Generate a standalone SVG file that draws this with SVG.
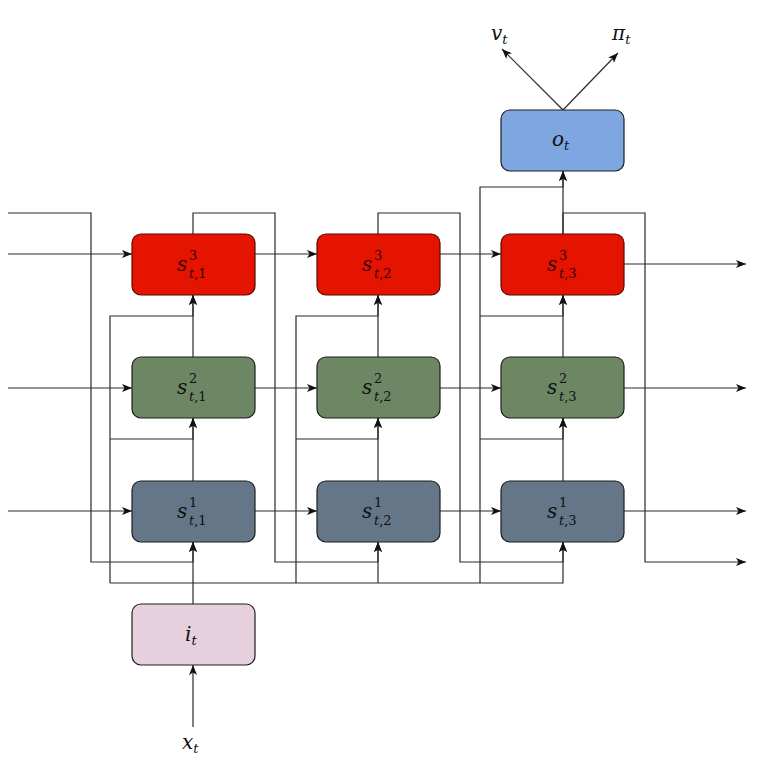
<svg xmlns="http://www.w3.org/2000/svg" width="758" height="776" viewBox="0 0 758 776">
<style>
.box{stroke:#1e1e1e;stroke-width:1.2}
.red{fill:#e51400;stroke:#5a0a00}
.green{fill:#6d8764}
.gray{fill:#647687}
.pink{fill:#e6d0de}
.blue{fill:#7ea6e0}
.ln{fill:none;stroke:#2a2a2a;stroke-width:1.2}
text{font-family:'DejaVu Serif','Liberation Serif',serif;font-style:italic;font-size:20px;fill:#111}
.rt{fill:#3a0000}
.s{font-size:13px}
.u{font-style:normal}
</style>
<defs>
<marker id="ar" markerUnits="userSpaceOnUse" markerWidth="10" markerHeight="8" viewBox="0 0 10 8" refX="10" refY="4" orient="auto">
<path d="M0,0 L10,4 L0,8 L2.5,4 z" fill="#111"/>
</marker>
</defs>
<g id="connectors">
<path class="ln" marker-end="url(#ar)" d="M8,254 H132"/>
<path class="ln" marker-end="url(#ar)" d="M8,388 H132"/>
<path class="ln" marker-end="url(#ar)" d="M8,511 H132"/>
<path class="ln" marker-end="url(#ar)" d="M8,213 H91 V562 H193 V542"/>
<path class="ln" marker-end="url(#ar)" d="M193,234 V213 H275 V562 H378 V542"/>
<path class="ln" marker-end="url(#ar)" d="M378,234 V213 H460 V562 H563 V542"/>
<path class="ln" marker-end="url(#ar)" d="M563,234 V213 H645 V562 H746"/>
<path class="ln" marker-end="url(#ar)" d="M563,234 V171"/>
<path class="ln" marker-end="url(#ar)" d="M193,604 V542"/>
<path class="ln" marker-end="url(#ar)" d="M110,583 H563 V542"/>
<path class="ln" marker-end="url(#ar)" d="M378,583 V542"/>
<path class="ln" marker-end="url(#ar)" d="M110,583 V316 H193 V295"/>
<path class="ln" marker-end="url(#ar)" d="M110,439 H193 V418"/>
<path class="ln" marker-end="url(#ar)" d="M296,583 V316 H378 V295"/>
<path class="ln" marker-end="url(#ar)" d="M296,439 H378 V418"/>
<path class="ln" marker-end="url(#ar)" d="M480,583 V187 H563 V171"/>
<path class="ln" marker-end="url(#ar)" d="M480,316 H563 V295"/>
<path class="ln" marker-end="url(#ar)" d="M480,439 H563 V418"/>
<path class="ln" marker-end="url(#ar)" d="M193,481 V418"/>
<path class="ln" marker-end="url(#ar)" d="M193,357 V295"/>
<path class="ln" marker-end="url(#ar)" d="M378,481 V418"/>
<path class="ln" marker-end="url(#ar)" d="M378,357 V295"/>
<path class="ln" marker-end="url(#ar)" d="M563,481 V418"/>
<path class="ln" marker-end="url(#ar)" d="M563,357 V295"/>
<path class="ln" marker-end="url(#ar)" d="M255,254 H317"/>
<path class="ln" marker-end="url(#ar)" d="M255,388 H317"/>
<path class="ln" marker-end="url(#ar)" d="M255,511 H317"/>
<path class="ln" marker-end="url(#ar)" d="M440,254 H501"/>
<path class="ln" marker-end="url(#ar)" d="M440,388 H501"/>
<path class="ln" marker-end="url(#ar)" d="M440,511 H501"/>
<path class="ln" marker-end="url(#ar)" d="M624,264 H746"/>
<path class="ln" marker-end="url(#ar)" d="M624,388 H746"/>
<path class="ln" marker-end="url(#ar)" d="M624,511 H746"/>
<path class="ln" marker-end="url(#ar)" d="M563,110 L502,49"/>
<path class="ln" marker-end="url(#ar)" d="M563,110 L618,53"/>
<path class="ln" marker-end="url(#ar)" d="M193,727 V665"/>
</g>
<g id="s3_1"><rect class="box red" x="132" y="234" width="123" height="61" rx="9"/><text class="rt" x="177" y="271">s<tspan class="s u" x="189" y="260">3</tspan><tspan class="s" x="189" y="278">t<tspan class="u">,1</tspan></tspan></text></g>
<g id="s3_2"><rect class="box red" x="317" y="234" width="123" height="61" rx="9"/><text class="rt" x="362" y="271">s<tspan class="s u" x="374" y="260">3</tspan><tspan class="s" x="374" y="278">t<tspan class="u">,2</tspan></tspan></text></g>
<g id="s3_3"><rect class="box red" x="501" y="234" width="123" height="61" rx="9"/><text class="rt" x="547" y="271">s<tspan class="s u" x="559" y="260">3</tspan><tspan class="s" x="559" y="278">t<tspan class="u">,3</tspan></tspan></text></g>
<g id="s2_1"><rect class="box green" x="132" y="357" width="123" height="61" rx="9"/><text x="177" y="394">s<tspan class="s u" x="189" y="383">2</tspan><tspan class="s" x="189" y="401">t<tspan class="u">,1</tspan></tspan></text></g>
<g id="s2_2"><rect class="box green" x="317" y="357" width="123" height="61" rx="9"/><text x="362" y="394">s<tspan class="s u" x="374" y="383">2</tspan><tspan class="s" x="374" y="401">t<tspan class="u">,2</tspan></tspan></text></g>
<g id="s2_3"><rect class="box green" x="501" y="357" width="123" height="61" rx="9"/><text x="547" y="394">s<tspan class="s u" x="559" y="383">2</tspan><tspan class="s" x="559" y="401">t<tspan class="u">,3</tspan></tspan></text></g>
<g id="s1_1"><rect class="box gray" x="132" y="481" width="123" height="61" rx="9"/><text x="177" y="518">s<tspan class="s u" x="189" y="507">1</tspan><tspan class="s" x="189" y="525">t<tspan class="u">,1</tspan></tspan></text></g>
<g id="s1_2"><rect class="box gray" x="317" y="481" width="123" height="61" rx="9"/><text x="362" y="518">s<tspan class="s u" x="374" y="507">1</tspan><tspan class="s" x="374" y="525">t<tspan class="u">,2</tspan></tspan></text></g>
<g id="s1_3"><rect class="box gray" x="501" y="481" width="123" height="61" rx="9"/><text x="547" y="518">s<tspan class="s u" x="559" y="507">1</tspan><tspan class="s" x="559" y="525">t<tspan class="u">,3</tspan></tspan></text></g>
<g id="i_t"><rect class="box pink" x="132" y="604" width="123" height="61" rx="9"/><text x="185" y="641">i<tspan class="s" y="645">t</tspan></text></g>
<g id="o_t"><rect class="box blue" x="501" y="110" width="123" height="61" rx="9"/><text x="552" y="146">o<tspan class="s" y="150">t</tspan></text></g>
<g id="labels">
<text x="491" y="40">v<tspan class="s" y="44">t</tspan></text>
<text x="612" y="40">π<tspan class="s" y="44">t</tspan></text>
<text x="182" y="749">x<tspan class="s" y="753">t</tspan></text>
</g>
</svg>
